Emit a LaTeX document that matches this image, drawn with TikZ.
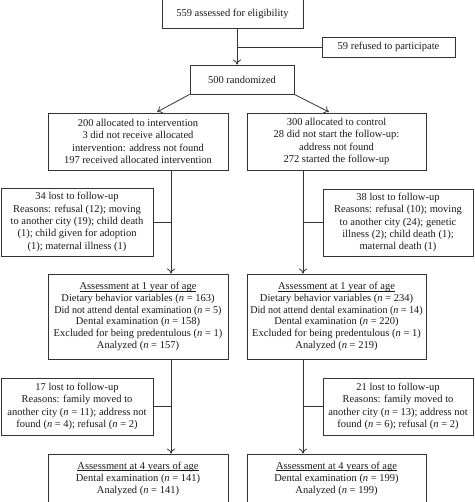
\documentclass[tikz,border=0pt]{standalone}
\usepackage{fontspec}
\setmainfont{Liberation Serif}
\usepackage{graphicx}
\usetikzlibrary{arrows.meta}
\newcommand\headul[1]{\setbox0\hbox{#1}\rlap{\rule[-1.6pt]{\wd0}{0.45pt}}\box0}
\begin{document}
\begin{tikzpicture}[x=1pt,y=-1pt,
  box/.style={draw=black!80, line width=0.8pt, align=center, inner sep=0pt,
    font=\fontsize{10.5}{11.8}\selectfont, text=black!90},
  widebox/.style={box, font=\fontsize{10.5}{12.3}\selectfont},
  conn/.style={draw=black!80, line width=0.8pt},
  arr/.style={conn, -{To[length=5pt,width=8pt]}}]
\useasboundingbox (0,0) rectangle (474,502);
\clip (0,0) rectangle (474,502);
% top
\node[box, minimum width=141pt, minimum height=29pt] (top) at (232.5,13.5) {559 assessed for eligibility};
\node[box, minimum width=133pt, minimum height=20pt] (ref) at (388.5,47) {59 refused to participate};
\node[box, minimum width=104pt, minimum height=29pt] (rand) at (242,79.5) {500 randomized};
\coordinate (c1) at (237,47);
\draw[arr] (top.south -| c1) -- (rand.north -| c1);
\draw[conn] (c1) -- (ref.west);
% allocation
\node[widebox, minimum width=180pt, minimum height=57pt] (int) at (138,141.5)
  {200 allocated to intervention\\3 did not receive allocated\\intervention: address not found\\197 received allocated intervention};
\node[widebox, minimum width=179pt, minimum height=57pt] (ctl) at (336.5,141.5)
  {300 allocated to control\\28 did not start the follow-up:\\address not found\\272 started the follow-up};
\coordinate (aL) at (157,112);
\coordinate (aR) at (329,112);
\draw[arr] (rand.south west) -- (aL);
\draw[arr] (rand.south east) -- (aR);
% lost 1
\node[widebox, minimum width=152pt, minimum height=68pt] (l1L) at (77,222)
  {34 lost to follow-up\\Reasons: refusal (12); moving\\to another city (19); child death\\(1); child given for adoption\\(1); maternal illness (1)};
\node[widebox, minimum width=150pt, minimum height=67pt] (l1R) at (398,222.5)
  {38 lost to follow-up\\Reasons: refusal (10); moving\\to another city (24); genetic\\illness (2); child death (1);\\maternal death (1)};
% assessment 1
\node[box, minimum width=180pt, minimum height=85pt] (a1L) at (138,316.5)
  {\headul{Assessment at 1 year of age}\\Dietary behavior variables (\textit{n} = 163)\\\scalebox{0.96}[1]{Did not attend dental examination (\textit{n} = 5)}\\Dental examination (\textit{n} = 158)\\Excluded for being predentulous (\textit{n} = 1)\\Analyzed (\textit{n} = 157)};
\node[box, minimum width=179pt, minimum height=85pt] (a1R) at (336.5,316.5)
  {\headul{Assessment at 1 year of age}\\Dietary behavior variables (\textit{n} = 234)\\\scalebox{0.96}[1]{Did not attend dental examination (\textit{n} = 14)}\\Dental examination (\textit{n} = 220)\\Excluded for being predentulous (\textit{n} = 1)\\Analyzed (\textit{n} = 219)};
\coordinate (vL) at (171,0);
\coordinate (vR) at (303,0);
\draw[arr] (int.south -| vL) -- (a1L.north -| vL);
\draw[arr] (ctl.south -| vR) -- (a1R.north -| vR);
\draw[conn] (l1L.east) -- (l1L.east -| vL);
\draw[conn] (l1R.west) -- (l1R.west -| vR);
% lost 2
\node[widebox, minimum width=152pt, minimum height=57pt] (l2L) at (77,406.5)
  {17 lost to follow-up\\Reasons: family moved to\\another city (\textit{n} = 11); address not\\found (\textit{n} = 4); refusal (\textit{n} = 2)};
\node[widebox, minimum width=150pt, minimum height=57pt] (l2R) at (398,406.5)
  {21 lost to follow-up\\Reasons: family moved to\\another city (\textit{n} = 13); address not\\found (\textit{n} = 6); refusal (\textit{n} = 2)};
% assessment 4
\node[widebox, minimum width=180pt, minimum height=60pt] (a4L) at (138,484)
  {\headul{Assessment at 4 years of age}\\Dental examination (\textit{n} = 141)\\Analyzed (\textit{n} = 141)\\\mbox{}};
\node[widebox, minimum width=179pt, minimum height=60pt] (a4R) at (336.5,484)
  {\headul{Assessment at 4 years of age}\\Dental examination (\textit{n} = 199)\\Analyzed (\textit{n} = 199)\\\mbox{}};
\draw[arr] (a1L.south -| vL) -- (a4L.north -| vL);
\draw[arr] (a1R.south -| vR) -- (a4R.north -| vR);
\draw[conn] (l2L.east) -- (l2L.east -| vL);
\draw[conn] (l2R.west) -- (l2R.west -| vR);
\end{tikzpicture}
\end{document}
